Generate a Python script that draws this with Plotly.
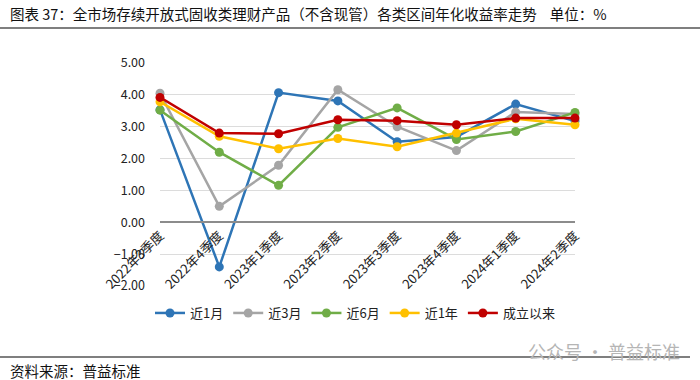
import plotly.graph_objects as go

categories = ["2022年3季度", "2022年4季度", "2023年1季度", "2023年2季度",
              "2023年3季度", "2023年4季度", "2024年1季度", "2024年2季度"]
m1 = [3.53, -1.40, 4.07, 3.81, 2.53, 2.68, 3.71, 3.18]
m3 = [4.05, 0.50, 1.79, 4.16, 3.00, 2.25, 3.46, 3.40]
m6 = [3.52, 2.20, 1.16, 2.98, 3.59, 2.60, 2.85, 3.45]
y1 = [3.78, 2.70, 2.31, 2.63, 2.37, 2.80, 3.25, 3.06]
since = [3.92, 2.80, 2.78, 3.22, 3.19, 3.06, 3.27, 3.27]

series_names = ["近1月", "近3月", "近6月", "近1年", "成立以来"]
series_values = [m1, m3, m6, y1, since]
colors = ["#2E75B6", "#A5A5A5", "#70AD47", "#FFC000", "#C00000"]

title_text = "图表 37：全市场存续开放式固收类理财产品（不含现管）各类区间年化收益率走势    单位：%"
source_text = "资料来源：普益标准"
watermark_text = "公众号 · 普益标准"

FONT = "Noto Sans CJK SC"

fig = go.Figure()
for name, vals, c in zip(series_names, series_values, colors):
    fig.add_trace(go.Scatter(
        x=list(range(len(categories))), y=vals, name=name, mode="lines+markers",
        line=dict(color=c, width=2.5), marker=dict(color=c, size=9),
        cliponaxis=False,
    ))

L, R, T, B = 160, 125, 63, 94
H = 380 - T - B
W = 700 - L - R

def py(p):
    return (380 - B - p) / H

def px(p):
    return (p - L) / W

fig.update_layout(
    width=700, height=380,
    margin=dict(l=L, r=R, t=T, b=B, autoexpand=False),
    paper_bgcolor="white", plot_bgcolor="white",
    font=dict(family=FONT, size=12, color="#222"),
    showlegend=True,
    legend=dict(orientation="h", x=px(150), xanchor="left", y=py(313), yanchor="middle",
                font=dict(size=13, color="#222"),
                itemwidth=30, tracegroupgap=0, bgcolor="rgba(0,0,0,0)"),
    xaxis=dict(
        range=[0, len(categories) - 1], tickmode="array",
        tickvals=list(range(len(categories))), ticktext=categories,
        tickangle=-45, anchor="free", position=2 / 7,
        showline=True, linecolor="#8c8c8c", linewidth=1.5,
        showgrid=False, zeroline=False, ticks="",
        tickfont=dict(size=13, color="#222"),
    ),
    yaxis=dict(
        range=[-2, 5], dtick=1, tickformat=".2f",
        showgrid=True, gridcolor="#dcdcdc", gridwidth=1,
        zeroline=False, showline=False, ticks="",
        tickfont=dict(size=12.5, color="#222"), ticklabelstandoff=14,
    ),
)

fig.add_shape(type="line", xref="paper", yref="paper",
              x0=px(0), x1=px(700), y0=py(28), y1=py(28),
              line=dict(color="#555", width=1.5))
fig.add_shape(type="line", xref="paper", yref="paper",
              x0=px(0), x1=px(690), y0=py(357), y1=py(357),
              line=dict(color="#555", width=1.5))

fig.add_annotation(text=title_text, xref="paper", yref="paper",
                   x=px(8), y=py(13), xanchor="left", yanchor="middle",
                   showarrow=False, font=dict(size=14.5, color="#111"))
fig.add_annotation(text=source_text, xref="paper", yref="paper",
                   x=px(8), y=py(370), xanchor="left", yanchor="middle",
                   showarrow=False, font=dict(size=14.5, color="#111"))
fig.add_annotation(text=watermark_text, xref="paper", yref="paper",
                   x=px(682), y=py(351), xanchor="right", yanchor="middle",
                   showarrow=False, font=dict(size=18, color="#b5b5b5"))

fig.write_html("out.html", config={"displayModeBar": False},
               post_script="document.body.style.margin='0';")
